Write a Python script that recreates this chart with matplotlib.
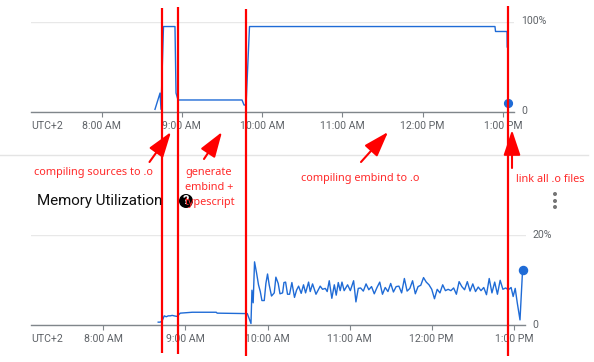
import matplotlib
matplotlib.use("Agg")
import matplotlib.pyplot as plt
from matplotlib.patches import Circle

W, H = 594, 362
BLUE = "#1f6bd6"
RED = "#ff0000"
REDTXT = "#ff2a2a"
GREY = "#5f6368"

hour_ticks = [8, 9, 10, 11, 12, 13]
hour_labels = ["8:00 AM", "9:00 AM", "10:00 AM", "11:00 AM", "12:00 PM", "1:00 PM"]

# cpu, decimal hours / percent
cpu_hours = [8.666, 8.729, 8.741, 8.772, 8.915, 8.928, 8.953, 9.75, 9.775, 9.80,
             9.843, 12.90, 12.907, 13.05, 13.052]
cpu_pct = [2.4, 20.5, 2.4, 94.4, 94.4, 20.5, 12.8, 12.8, 7.2, 7.2,
           94.4, 94.4, 88.9, 88.9, 71.7]
cpu_last = (13.066, 9.4)

# memory, minutes relative to 10:00
mem_min_start = [-79.9, -78.4, -77, -75.5, -74, -72.6, -71.1, -69.7, -68.2, -66.7, -66, -64.5, -63.8,
                 -55, -37.5, -36.8, -17, -14.8, -12.1, -11.4, -10.5, -9.5, -8, -6.6, -5.3, -4.1, -2.4,
                 -1.2, 0, 1.2, 2.9, 4.9, 6.1, 7.8, 9.1, 11, 12, 13.2, 14.6, 16.1, 17.8, 19.7, 21.2,
                 22.7, 24.6, 26.3, 27.8, 30, 31.2, 32.9, 35.4, 38.5, 40.2, 42.2, 43.6, 45.1, 47, 48.8,
                 50.2, 51.7, 53.1, 54.4, 56, 58.5, 60.5, 62.9, 64.6, 66.3]
mem_pct_start = [0.7, 0.7, 1.0, 2.1, 1.9, 2.1, 2.1, 2.2, 2.1, 2.0, 2.0, 2.5, 2.7,
                 2.9, 2.9, 2.7, 2.6, 2.6, 0.4, 7.8, 5.0, 14.1, 11.6, 9.0, 7.5, 5.5, 5.5,
                 9.3, 11.4, 9.0, 6.5, 7.2, 10.7, 9.3, 7.0, 7.2, 9.5, 9.6, 6.9, 6.9, 9.5, 6.2, 7.8,
                 8.7, 7.1, 9.0, 7.2, 9.6, 7.5, 9.2, 6.9, 8.7, 8.0, 8.2, 7.5, 9.9, 6.0, 9.0,
                 6.7, 9.5, 7.7, 9.6, 7.7, 9.0, 7.7, 9.9, 5.2, 8.2]
# the flat noisy stretch is sampled every 2 minutes from +68
mem_pct_noisy = [8.3, 7.6, 9.2, 7.9, 8.6, 7.0, 8.4, 9.6, 6.9, 8.4, 7.5, 9.3, 7.4, 8.6, 8.7, 7.2,
                 10.4, 7.6, 8.2, 9.9, 7.0, 8.6, 8.9, 10.6, 9.6, 9.0, 8.0, 5.9, 8.0, 7.2, 9.0, 7.7,
                 8.0, 7.7, 8.3, 6.9, 9.7, 8.6, 7.9, 9.7, 7.6, 9.2, 7.5, 8.5, 7.7, 8.4, 6.8, 10.4,
                 7.2, 9.6, 6.9, 10.0, 8.0, 8.3, 7.9]
mem_min_tail = [178, 179.5, 181, 182.5, 184.5, 186.4]
mem_pct_tail = [8.4, 6.4, 8.2, 5.0, 1.2, 12.4]

mem_min_noisy = list(range(68, 68 + 2 * len(mem_pct_noisy), 2))
mem_hours = [10 + m / 60 for m in mem_min_start + mem_min_noisy + mem_min_tail]
mem_pct = mem_pct_start + mem_pct_noisy + mem_pct_tail

plt.rcParams["font.family"] = ["Roboto", "DejaVu Sans"]
fig = plt.figure(figsize=(W / 100, H / 100), dpi=100)


def panel(left, right, top, bottom, ymax, ylabel, xlim):
    ax = fig.add_axes([left / W, 1 - bottom / H, (right - left) / W, (bottom - top) / H])
    ax.set_xlim(*xlim)
    ax.set_ylim(0, ymax)
    ax.set_xticks(hour_ticks)
    ax.set_xticklabels(hour_labels)
    ax.set_yticks([0, ymax])
    ax.yaxis.tick_right()
    ax.tick_params(axis="x", length=3.6, width=0.8, color="#80868b", labelsize=7.6, labelcolor=GREY, pad=3.0)
    ax.tick_params(axis="y", length=0, labelright=False)
    ax.grid(axis="y", color="#e8e8e8", lw=1)
    ax.set_axisbelow(True)
    for s in ["top", "left", "right"]:
        ax.spines[s].set_visible(False)
    ax.spines["bottom"].set_color("#80868b")
    ax.spines["bottom"].set_linewidth(1)
    ax.patch.set_alpha(0)
    # y labels sit a little above their gridlines in the original
    for v, s in [(0, "0"), (ymax, ylabel)]:
        ax.annotate(s, xy=(1, v), xycoords=ax.get_yaxis_transform(), xytext=(5, 0.4), textcoords="offset points",
                    fontsize=7.6, color=GREY, ha="left", va="center")
    ax.annotate("UTC+2", xy=(0, 0), xycoords="axes fraction", xytext=(0, -6.6), textcoords="offset points",
                fontsize=7.6, color=GREY, ha="left", va="top")
    return ax


ax1 = panel(31, 514, 21.5, 111.5, 100, "100%", (7.122, 13.137))
ax1.plot(cpu_hours, cpu_pct, color=BLUE, lw=1.0, clip_on=False)
ax1.plot(*cpu_last, "o", color=BLUE, ms=5.6, clip_on=False)

ax2 = panel(31, 525.5, 235.3, 325.3, 20, "20%", (7.119, 13.142))
ax2.plot(mem_hours, mem_pct, color=BLUE, lw=1.0, clip_on=False)
ax2.plot(mem_hours[-1], mem_pct[-1], "o", color=BLUE, ms=5.8, clip_on=False)

# everything pasted over the screenshot, in pixel coordinates
over = fig.add_axes([0, 0, 1, 1], zorder=5)
over.set_xlim(0, W)
over.set_ylim(H, 0)
over.axis("off")

over.plot([0, 588], [155, 155], color="#e4e4e4", lw=1)
over.text(37, 201, "Memory Utilization", fontsize=10.9, color="#111111", va="center", ha="left")
over.add_patch(Circle((186, 201), 7, color="black", lw=0))
over.text(186, 200.6, "?", color="white", fontsize=9, fontweight="bold", ha="center", va="center")
for y in [194, 201, 207]:
    over.add_patch(Circle((555, y), 2, color="#757575", lw=0))

for x, y0, y1 in [(162, 8, 353), (178, 7, 354), (246, 9, 356), (507.7, 6, 356)]:
    over.plot([x, x], [y0, y1], color=RED, lw=1.6, solid_capstyle="butt")

for start, tip in [((149.5, 162), (171, 132)), ((204, 159), (222, 132)),
                   ((361, 162), (388, 132)), ((512, 168), (512, 130))]:
    over.annotate("", xy=tip, xytext=start,
                  arrowprops=dict(arrowstyle="-|>,head_length=1.55,head_width=0.52", color=RED, lw=1.5,
                                  shrinkA=0, shrinkB=0))

red_text = [(34, 172, "compiling sources to .o"), (185, 173, "generate"), (185, 188, "embind +"),
            (185, 203, "typescript"), (301, 179, "compiling embind to .o"), (516, 179, "link all .o files")]
for x, y, s in red_text:
    over.text(x, y, s, color=REDTXT, fontsize=7.85, family=["Noto Sans", "DejaVu Sans"], va="center", ha="left")

fig.savefig("out.png", dpi=100)
